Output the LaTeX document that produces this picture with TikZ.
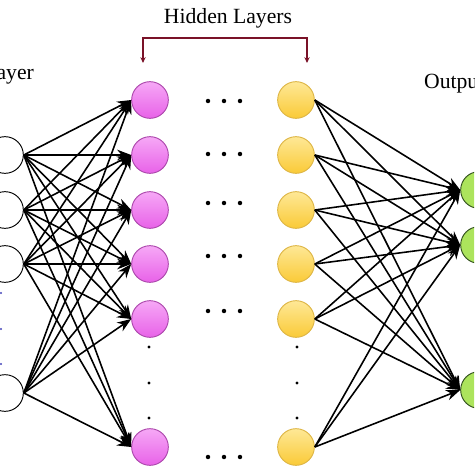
\documentclass[tikz,border=0pt]{standalone}
\usepackage{fontspec}
\setmainfont{Liberation Serif}
\usetikzlibrary{arrows.meta}

\definecolor{pinktop}{RGB}{246,168,246}
\definecolor{pinkbot}{RGB}{232,98,232}
\definecolor{pinkline}{RGB}{172,72,172}
\definecolor{yeltop}{RGB}{254,232,150}
\definecolor{yelbot}{RGB}{250,202,55}
\definecolor{yelline}{RGB}{222,182,70}
\definecolor{grnfill}{RGB}{172,228,92}
\definecolor{grnline}{RGB}{50,80,30}
\definecolor{brkcol}{RGB}{122,18,40}

\tikzset{
	neuron/.style={circle,minimum size=1.1cm,inner sep=0pt,line width=0.8pt},
	innode/.style={neuron,draw=black,fill=white},
	hanode/.style={neuron,draw=pinkline,top color=pinktop,bottom color=pinkbot},
	hbnode/.style={neuron,draw=yelline,top color=yeltop,bottom color=yelbot},
	outnode/.style={neuron,draw=grnline,fill=grnfill},
	link/.style={->,line width=1.35pt},
	bracket/.style={-{Stealth[length=5pt,width=4.5pt]},draw=brkcol,line width=1.1pt},
	dotmark/.style={circle,fill=black,inner sep=0pt,minimum size=3.8pt},
	vdotmark/.style={circle,fill=black,inner sep=0pt,minimum size=2.8pt}
}

\begin{document}
\begin{tikzpicture}[x=0.03cm,y=-0.03cm,>={Stealth[length=12pt,width=9pt]},font=\fontsize{18.5}{22}\selectfont]
	\useasboundingbox (0,0) rectangle (474,474);
	\clip (0,0) rectangle (474,474);

	%labels
	\node (hidlab) at (228,18) {Hidden Layers};
	\node[anchor=east] (inlab) at (38,75) {Input Layer};
	\node[anchor=west] (outlab) at (420,84) {Output Layer};

	%bracket
	\coordinate (brL) at (143,38);
	\coordinate (brR) at (307,38);
	\coordinate (tipL) at (143,63);
	\coordinate (tipR) at (307,63);
	\draw[bracket] (brR) -- (brL) -- (tipL);
	\draw[bracket] (brL) -- (brR) -- (tipR);

	%input layer
	\node[innode] (in1) at (5,155) {};
	\node[innode] (in2) at (5,210) {};
	\node[innode] (in3) at (5,264) {};
	\node[innode] (in4) at (5,393) {};
	\foreach \y in {293,329,364}
		\fill[blue!45!gray] (1,\y) circle (1pt);

	%hidden layers
	\foreach \i/\y in {1/100,2/155,3/210,4/264,5/319,6/447}{
		\node[hanode] (ha\i) at (150,\y) {};
		\node[hbnode] (hb\i) at (296,\y) {};
	}
	\foreach \y in {347,383,418}{
		\node[vdotmark] at (149,\y) {};
		\node[vdotmark] at (297,\y) {};
	}
	\foreach \y in {101,154,203,256,311,457}
		\foreach \x in {208,224,240}
			\node[dotmark] at (\x,\y) {};

	%output layer
	\node[outnode] (out1) at (479,190) {};
	\node[outnode] (out2) at (479,245) {};
	\node[outnode] (out3) at (479,390) {};

	%connections
	\foreach \a in {1,...,4}
		\foreach \b in {1,...,6}
			\draw[link] (in\a.east) -- (ha\b.west);
	\foreach \a in {1,...,6}
		\foreach \b in {1,...,3}
			\draw[link] (hb\a.east) -- (out\b.west);
\end{tikzpicture}
\end{document}
